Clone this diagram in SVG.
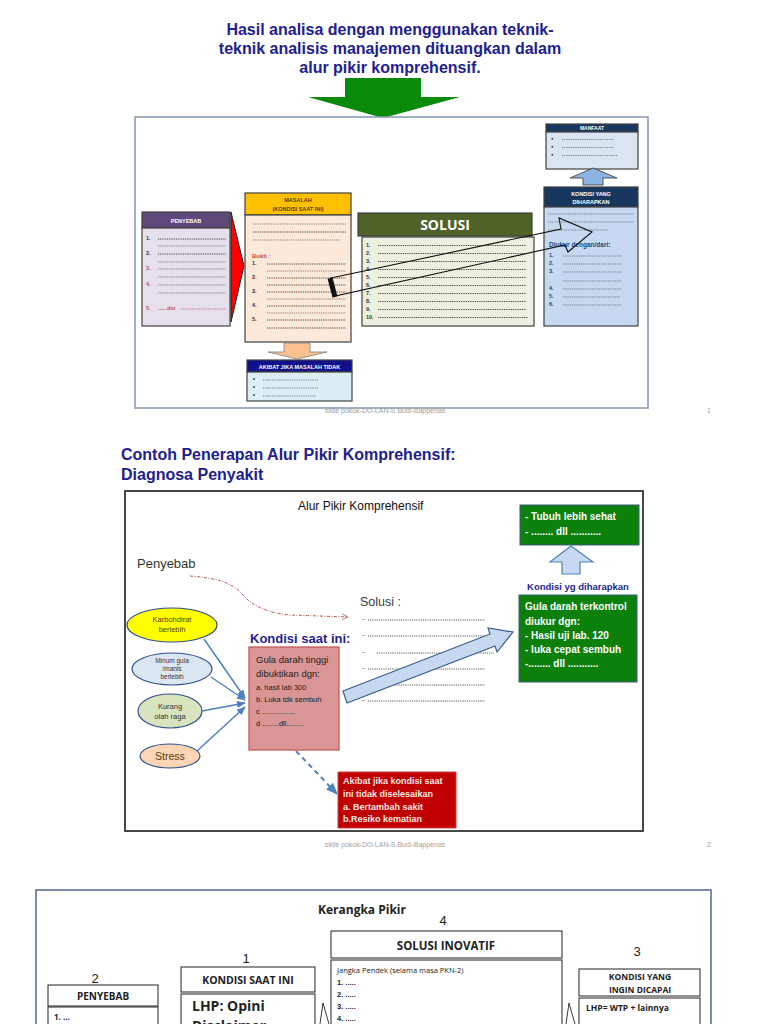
<svg xmlns="http://www.w3.org/2000/svg" width="768" height="1024" viewBox="0 0 768 1024">
<defs>
<style>
text{font-family:"Liberation Sans",Arial,sans-serif}
.t{fill:#202090;font-weight:bold;font-size:16px}
.foot{fill:#a0a0a0;font-size:7px}
.h{fill:#fff;font-weight:bold;font-size:5.5px;text-anchor:middle}
.n{font-weight:bold;font-size:5.5px;fill:#333}
.dk{stroke:#333;stroke-width:0.9;stroke-dasharray:1 0.8}
.lt{stroke:#555;stroke-width:0.7;stroke-dasharray:1 0.8}
.bx{stroke:#404040;stroke-width:1.2}
.c{font-family:"Open Sans","Liberation Sans",sans-serif}
.w{fill:#fff;font-weight:bold;font-size:10px}
.bl{stroke:#4f81bd;stroke-width:1.5;fill:none}
.k{stroke:#222;stroke-width:1;fill:#fff}
.sd{stroke:#404040;stroke-width:1;stroke-dasharray:1 1.2}
</style>
<marker id="ab" viewBox="0 0 10 10" refX="9" refY="5" markerWidth="6" markerHeight="6" orient="auto"><path d="M0,1 L10,5 L0,9 z" fill="#4f81bd"/></marker>
<marker id="ar" viewBox="0 0 10 10" refX="9" refY="5" markerWidth="7" markerHeight="7" orient="auto"><path d="M1,1 L9,5 L1,9" fill="none" stroke="#b05a4a" stroke-width="1.2"/></marker>
</defs>
<rect width="768" height="1024" fill="#fff"/>

<!-- Title -->
<g id="title1">
<text class="t" x="390" y="35" text-anchor="middle">Hasil analisa dengan menggunakan teknik-</text>
<text class="t" x="390" y="54" text-anchor="middle">teknik analisis manajemen dituangkan dalam</text>
<text class="t" x="390" y="73" text-anchor="middle">alur pikir komprehensif.</text>
</g>
<polygon id="greenArrow" points="345,78 421,78 421,97 460,97 383,118 308,97 345,97" fill="#0a8a0a"/>

<!-- Slide 1 -->
<rect id="slide1" x="135" y="117" width="513" height="291" fill="#fff" stroke="#8496b0" stroke-width="1.5"/>

<g id="penyebab1">
<rect class="bx" x="142" y="212" width="88" height="16" fill="#5f497a"/>
<text class="h" x="186" y="222.5">PENYEBAB</text>
<rect class="bx" x="142" y="228" width="88" height="98" fill="#e5e0ec"/>
<text class="n" x="146" y="240">1.</text><line class="dk" x1="158" y1="239" x2="226" y2="239"/><line class="lt" x1="158" y1="246" x2="226" y2="246"/>
<text class="n" x="146" y="255">2.</text><line class="dk" x1="158" y1="254" x2="226" y2="254"/><line class="lt" x1="158" y1="262" x2="226" y2="262"/>
<text class="n" x="146" y="270" style="fill:#c0504d">3.</text><line class="lt" x1="158" y1="269" x2="226" y2="269"/><line class="lt" x1="158" y1="277" x2="226" y2="277"/>
<text class="n" x="146" y="286" style="fill:#c0504d">4.</text><line class="lt" x1="158" y1="285" x2="226" y2="285"/><line class="lt" x1="158" y1="293" x2="226" y2="293"/>
<text class="n" x="146" y="310" style="fill:#c0504d">5.</text>
<text x="158" y="310" style="fill:#c0504d;font-size:5.5px;font-weight:bold">......dst</text><line x1="181" y1="309" x2="226" y2="309" stroke="#c0504d" stroke-width="0.8" stroke-dasharray="1 0.8"/>
</g>

<g id="masalah">
<rect class="bx" x="245" y="193" width="106" height="22" fill="#ffc000"/>
<text class="h" x="298" y="202" style="fill:#5a3a10">MASALAH</text>
<text class="h" x="298" y="210.5" style="fill:#5a3a10">(KONDISI SAAT INI)</text>
<rect class="bx" x="245" y="215" width="106" height="127" fill="#fde9d9"/>
<line class="lt" x1="253" y1="224" x2="346" y2="224"/><line class="dk" x1="253" y1="232" x2="346" y2="232"/><line class="lt" x1="253" y1="240" x2="340" y2="240"/>
<text x="252" y="258" style="fill:#c0504d;font-size:6px;font-weight:bold">Bukti :</text>
<text class="n" x="252" y="265">1.</text><line class="dk" x1="267" y1="264" x2="346" y2="264"/><line class="lt" x1="267" y1="271" x2="346" y2="271"/>
<text class="n" x="252" y="279">2.</text><line class="dk" x1="267" y1="278" x2="346" y2="278"/><line class="dk" x1="267" y1="285" x2="346" y2="285"/>
<text class="n" x="252" y="293">3.</text><line class="dk" x1="267" y1="292" x2="346" y2="292"/><line class="lt" x1="267" y1="299" x2="346" y2="299"/>
<text class="n" x="252" y="307">4.</text><line class="dk" x1="267" y1="306" x2="346" y2="306"/><line class="lt" x1="267" y1="313" x2="346" y2="313"/>
<text class="n" x="252" y="321">5.</text><line class="dk" x1="267" y1="320" x2="346" y2="320"/><line class="dk" x1="267" y1="328" x2="346" y2="328"/>
</g>

<g id="akibat1">
<rect class="bx" x="247" y="360" width="105" height="12" fill="#10108a"/>
<text class="h" x="299.5" y="368.5">AKIBAT JIKA MASALAH TIDAK</text>
<rect class="bx" x="247" y="372" width="105" height="29" fill="#dbeef4"/>
<circle cx="254" cy="379" r="0.9" fill="#333"/><line class="lt" x1="263" y1="380" x2="318" y2="380"/>
<circle cx="254" cy="387" r="0.9" fill="#333"/><line class="lt" x1="263" y1="388" x2="318" y2="388"/>
<circle cx="254" cy="395" r="0.9" fill="#333"/><line class="lt" x1="263" y1="396" x2="316" y2="396"/>
</g>

<g id="solusi1">
<rect class="bx" x="358" y="213" width="174" height="23" fill="#4f6228"/>
<text x="445" y="230" class="c" text-anchor="middle" style="fill:#fff;font-size:14px;font-weight:bold">SOLUSI</text>
<rect class="bx" x="362" y="237" width="172" height="89" fill="#ebf1de"/>
<g class="n">
<text x="366" y="246.5">1.</text><text x="366" y="254.5">2.</text><text x="366" y="262.5">3.</text><text x="366" y="270.5">4.</text><text x="366" y="278.5">5.</text>
<text x="366" y="286.5">6.</text><text x="366" y="294.5">7.</text><text x="366" y="302.5">8.</text><text x="366" y="310.5">9.</text><text x="366" y="318.5">10.</text>
</g>
<g class="dk">
<line x1="378" y1="245.5" x2="526" y2="245.5"/><line x1="378" y1="253.5" x2="526" y2="253.5"/><line x1="378" y1="261.5" x2="526" y2="261.5"/><line x1="378" y1="269.5" x2="526" y2="269.5"/><line x1="378" y1="277.5" x2="526" y2="277.5"/>
<line x1="378" y1="285.5" x2="526" y2="285.5"/><line x1="378" y1="293.5" x2="526" y2="293.5"/><line x1="378" y1="301.5" x2="526" y2="301.5"/><line x1="378" y1="309.5" x2="526" y2="309.5"/><line x1="378" y1="317.5" x2="528" y2="317.5"/>
</g>
</g>

<g id="kondisiHarap1">
<rect class="bx" x="544" y="187" width="94" height="20" fill="#17375e"/>
<text class="h" x="591" y="195.5">KONDISI YANG</text>
<text class="h" x="591" y="203.5">DIHARAPKAN</text>
<rect class="bx" x="544" y="207" width="94" height="119" fill="#c6d9f1"/>
<line class="lt" x1="548" y1="214" x2="634" y2="214"/><line class="lt" x1="548" y1="222" x2="634" y2="222"/><line class="lt" x1="548" y1="230" x2="608" y2="230"/>
<text x="549" y="247" style="fill:#1f497d;font-size:6.5px;font-weight:bold">Diukur dengan/dari:</text>
<g class="n">
<text x="549" y="257" style="fill:#1f497d">1.</text><text x="549" y="265" style="fill:#1f497d">2.</text><text x="549" y="273" style="fill:#1f497d">3.</text>
<text x="549" y="290" style="fill:#1f497d">4.</text><text x="549" y="298" style="fill:#1f497d">5.</text><text x="549" y="306" style="fill:#1f497d">6.</text>
</g>
<g class="lt">
<line x1="563" y1="256" x2="622" y2="256"/><line x1="563" y1="264" x2="622" y2="264"/><line x1="563" y1="272" x2="622" y2="272"/><line x1="563" y1="281" x2="622" y2="281"/>
<line x1="563" y1="289" x2="622" y2="289"/><line x1="563" y1="297" x2="620" y2="297"/><line x1="563" y1="305" x2="622" y2="305"/>
</g>
</g>

<g id="manfaat">
<rect class="bx" x="546" y="124" width="92" height="8" fill="#17375e"/>
<text class="h" x="592" y="130.3" style="font-size:5px">MANFAAT</text>
<rect class="bx" x="546" y="132" width="92" height="37" fill="#dbe5f1"/>
<rect x="551.5" y="138" width="1.6" height="1.6" fill="#333"/><line class="lt" x1="562" y1="139.5" x2="614" y2="139.5"/>
<rect x="551.5" y="146" width="1.6" height="1.6" fill="#333"/><line class="lt" x1="562" y1="147.5" x2="614" y2="147.5"/>
<rect x="551.5" y="154" width="1.6" height="1.6" fill="#333"/><line class="lt" x1="562" y1="155.5" x2="618" y2="155.5"/>
</g>

<g id="connectors1">
<polygon points="231,212 244,266 231,322" fill="#ff0000" stroke="#222" stroke-width="1"/>
<polygon points="284,343 310,343 310,352 327,352 297,359 268,352 284,352" fill="#fac090" stroke="#808080" stroke-width="0.8"/>
<polygon points="583,185 603,185 603,178 617,178 593,168 570,178 583,178" fill="#8db3e2" stroke="#333" stroke-width="0.8"/>
<polygon points="331,278 561,229 559,218 592,232 568,252 565,245 335,296" fill="none" stroke="#111" stroke-width="1.1"/>
<line x1="330" y1="278" x2="335" y2="297" stroke="#111" stroke-width="5"/>
</g>
<text class="foot" x="385" y="413" text-anchor="middle">slide pokok-DO-LAN-S.Budi-Bappenas</text>
<text class="foot" x="707" y="413">1</text>

<!-- Slide 2 -->
<g id="title2">
<text class="t" x="121" y="460">Contoh Penerapan Alur Pikir Komprehensif:</text>
<text class="t" x="121" y="480">Diagnosa Penyakit</text>
</g>
<rect id="slide2" x="125" y="491" width="518" height="340" fill="#fff" stroke="#333" stroke-width="1.8"/>
<text x="298" y="510" style="font-size:12px;fill:#111">Alur Pikir Komprehensif</text>
<text id="penyebab2" x="137" y="568" style="font-size:13px;fill:#333">Penyebab</text>

<g id="karbo">
<ellipse cx="172" cy="625" rx="45" ry="17" fill="#ffff00" stroke="#2f4f8f" stroke-width="1.2"/>
<text x="172" y="622" text-anchor="middle" style="font-size:7.5px;fill:#5a3a10">Karbohdirat</text>
<text x="172" y="632" text-anchor="middle" style="font-size:7.5px;fill:#5a3a10">berlebih</text>
</g>
<g id="minum">
<ellipse cx="172" cy="669" rx="40" ry="16" fill="#dce6f2" stroke="#2f4f8f" stroke-width="1.2"/>
<text x="172" y="663" text-anchor="middle" style="font-size:6.5px;fill:#333">Minum gula</text>
<text x="172" y="671" text-anchor="middle" style="font-size:6.5px;fill:#333">/manis</text>
<text x="172" y="679" text-anchor="middle" style="font-size:6.5px;fill:#333">berlebih</text>
</g>
<g id="kurang">
<ellipse cx="170" cy="711" rx="32" ry="17" fill="#d7e4bd" stroke="#2f4f8f" stroke-width="1.2"/>
<text x="170" y="709" text-anchor="middle" style="font-size:7.5px;fill:#333">Kurang</text>
<text x="170" y="719" text-anchor="middle" style="font-size:7.5px;fill:#333">olah raga</text>
</g>
<g id="stress">
<ellipse cx="170" cy="756" rx="30" ry="12" fill="#fcd5b5" stroke="#2f4f8f" stroke-width="1.2"/>
<text x="170" y="760" text-anchor="middle" style="font-size:10.5px;fill:#5a3a10">Stress</text>
</g>

<g id="kondisi2">
<text x="250" y="643" style="font-size:13px;font-weight:bold;fill:#1f1f8f">Kondisi saat ini:</text>
<rect x="249" y="647" width="90" height="103" fill="#d99694" stroke="#c0504d" stroke-width="1.2"/>
<text x="256" y="663" style="font-size:9.5px;fill:#222">Gula darah tinggi</text>
<text x="256" y="677" style="font-size:9.5px;fill:#222">dibuktikan  dgn:</text>
<text x="256" y="690" style="font-size:7.5px;fill:#222">a. hasil lab 300</text>
<text x="256" y="702" style="font-size:7.5px;fill:#222">b. Luka tdk  sembuh</text>
<text x="256" y="714" style="font-size:7.5px;fill:#222">c ................</text>
<text x="256" y="726" style="font-size:7.5px;fill:#222">d  ........dll........</text>
</g>

<g id="solusi2">
<text x="360" y="606" style="font-size:12.5px;fill:#404040">Solusi :</text>
<g style="font-size:8px;fill:#404040">
<text x="362" y="621">-</text><text x="362" y="637">-</text><text x="362" y="654">-</text>
<text x="362" y="670">-</text><text x="362" y="686">-</text><text x="362" y="702">-</text>
</g>
<line class="sd" x1="368" y1="620" x2="485" y2="620"/>
<line class="sd" x1="368" y1="636" x2="485" y2="636"/>
<line class="sd" x1="377" y1="653" x2="494" y2="653"/>
<line class="sd" x1="368" y1="669" x2="485" y2="669"/>
<line class="sd" x1="368" y1="685" x2="485" y2="685"/>
<line class="sd" x1="368" y1="701" x2="485" y2="701"/>
</g>

<g id="akibat2">
<rect x="338" y="772" width="118" height="56" fill="#c00000" stroke="#d04040" stroke-width="1"/>
<g style="font-size:9px;font-weight:bold;fill:#ffe8e0">
<text x="343" y="784">Akibat jika kondisi saat</text>
<text x="343" y="797">ini tidak diselesaikan</text>
<text x="343" y="810">a. Bertambah sakit</text>
<text x="343" y="822">b.Resiko kematian</text>
</g>
</g>

<g id="harapTop">
<rect x="520" y="505" width="119" height="40" fill="#0b800b" stroke="#3a5a80" stroke-width="1"/>
<text class="w" x="525" y="520">- Tubuh lebih sehat</text>
<text class="w" x="525" y="535">- ........ dll ...........</text>
</g>
<text id="harapLabel" x="578" y="590" text-anchor="middle" style="font-size:9.5px;font-weight:bold;fill:#1f1f8f">Kondisi yg diharapkan</text>
<g id="harapBottom">
<rect x="519" y="595" width="118" height="87" fill="#0b800b" stroke="#3a5a80" stroke-width="1"/>
<text class="w" x="525" y="610">Gula darah terkontrol</text>
<text class="w" x="525" y="625">diukur  dgn:</text>
<text class="w" x="525" y="639">- Hasil uji lab. 120</text>
<text class="w" x="525" y="653">- luka cepat sembuh</text>
<text class="w" x="525" y="667">-........ dll ...........</text>
</g>

<g id="connectors2">
<path d="M190,576 C215,578 232,582 242,594 C252,606 268,613 290,615 L348,617" fill="none" stroke="#b05a4a" stroke-width="1" stroke-dasharray="3 1.5 1 1.5" marker-end="url(#ar)"/>
<line class="bl" x1="204" y1="639" x2="245" y2="698" marker-end="url(#ab)"/>
<line class="bl" x1="211" y1="677" x2="245" y2="700" marker-end="url(#ab)"/>
<line class="bl" x1="202" y1="711" x2="245" y2="703" marker-end="url(#ab)"/>
<line class="bl" x1="197" y1="751" x2="245" y2="707" marker-end="url(#ab)"/>
<line x1="296" y1="751" x2="337" y2="794" stroke="#4f81bd" stroke-width="2" stroke-dasharray="5 4" marker-end="url(#ab)"/>
<polygon points="343,691 490,634 488,628 513,632 497,652 495,646 347,703" fill="#c6d9f1" stroke="#385d8a" stroke-width="1.2"/>
<polygon points="562,574 580,574 580,562 593,562 571,546 550,562 562,562" fill="#c6d9f1" stroke="#4f81bd" stroke-width="1.2"/>
</g>
<text class="foot" x="385" y="847" text-anchor="middle">slide pokok-DO-LAN-S.Budi-Bappenas</text>
<text class="foot" x="707" y="847">2</text>

<!-- Slide 3 -->
<rect id="slide3" x="36" y="890" width="675" height="150" fill="#fff" stroke="#4f6a8f" stroke-width="1.5"/>
<text x="318" y="914" style="font-size:12px;font-weight:bold;fill:#222" class="c">Kerangka Pikir</text>
<g id="solusiInovatif">
<text x="443" y="925" text-anchor="middle" style="font-size:13px;fill:#222">4</text>
<rect class="k" x="331" y="931" width="231" height="27"/>
<text x="446" y="950" text-anchor="middle" class="c" style="font-size:11.5px;font-weight:bold;fill:#222">SOLUSI INOVATIF</text>
<rect class="k" x="331" y="960" width="231" height="80"/>
<text x="337" y="973" class="c" style="font-size:7.5px;fill:#222">Jangka Pendek (selama masa PKN-2)</text>
<g class="c" style="font-size:7.5px;font-weight:bold;fill:#222">
<text x="337" y="985">1.  .....</text><text x="337" y="997">2.  .....</text><text x="337" y="1009">3.  .....</text><text x="337" y="1021">4.  .....</text>
</g>
</g>
<g id="kondisiSaatIni3">
<text x="246" y="963" text-anchor="middle" style="font-size:13px;fill:#222">1</text>
<rect class="k" x="181" y="967" width="134" height="25"/>
<text x="248" y="984" text-anchor="middle" class="c" style="font-size:10.5px;font-weight:bold;fill:#222">KONDISI SAAT INI</text>
<rect class="k" x="181" y="994" width="134" height="50"/>
<text x="192" y="1011" class="c" style="font-size:14px;font-weight:bold;fill:#222">LHP: Opini</text>
<text x="192" y="1031" class="c" style="font-size:14px;font-weight:bold;fill:#222">Disclaimer</text>
</g>
<g id="penyebab3">
<text x="95" y="983" text-anchor="middle" style="font-size:13px;fill:#222">2</text>
<rect class="k" x="48" y="985" width="110" height="21"/>
<text x="103" y="1000" text-anchor="middle" class="c" style="font-size:10px;font-weight:bold;fill:#222">PENYEBAB</text>
<rect class="k" x="48" y="1007" width="110" height="40"/>
<text x="54" y="1020" class="c" style="font-size:8px;font-weight:bold;fill:#222">1.  ...</text>
</g>
<g id="kondisiIngin">
<text x="637" y="956" text-anchor="middle" style="font-size:13px;fill:#222">3</text>
<rect class="k" x="579" y="969" width="121" height="27"/>
<text x="640" y="980" text-anchor="middle" class="c" style="font-size:8.5px;font-weight:bold;fill:#222">KONDISI YANG</text>
<text x="640" y="993" text-anchor="middle" class="c" style="font-size:8.5px;font-weight:bold;fill:#222">INGIN DICAPAI</text>
<rect class="k" x="579" y="998" width="121" height="46"/>
<text x="586" y="1011" class="c" style="font-size:8.5px;font-weight:bold;fill:#222">LHP= WTP + lainnya</text>
</g>
<g id="connectors3" fill="none" stroke="#222" stroke-width="0.9">
<polyline points="320,1024 323,1003 329,1024"/>
<polyline points="566,1024 569,1003 575,1024"/>
</g>
</svg>
